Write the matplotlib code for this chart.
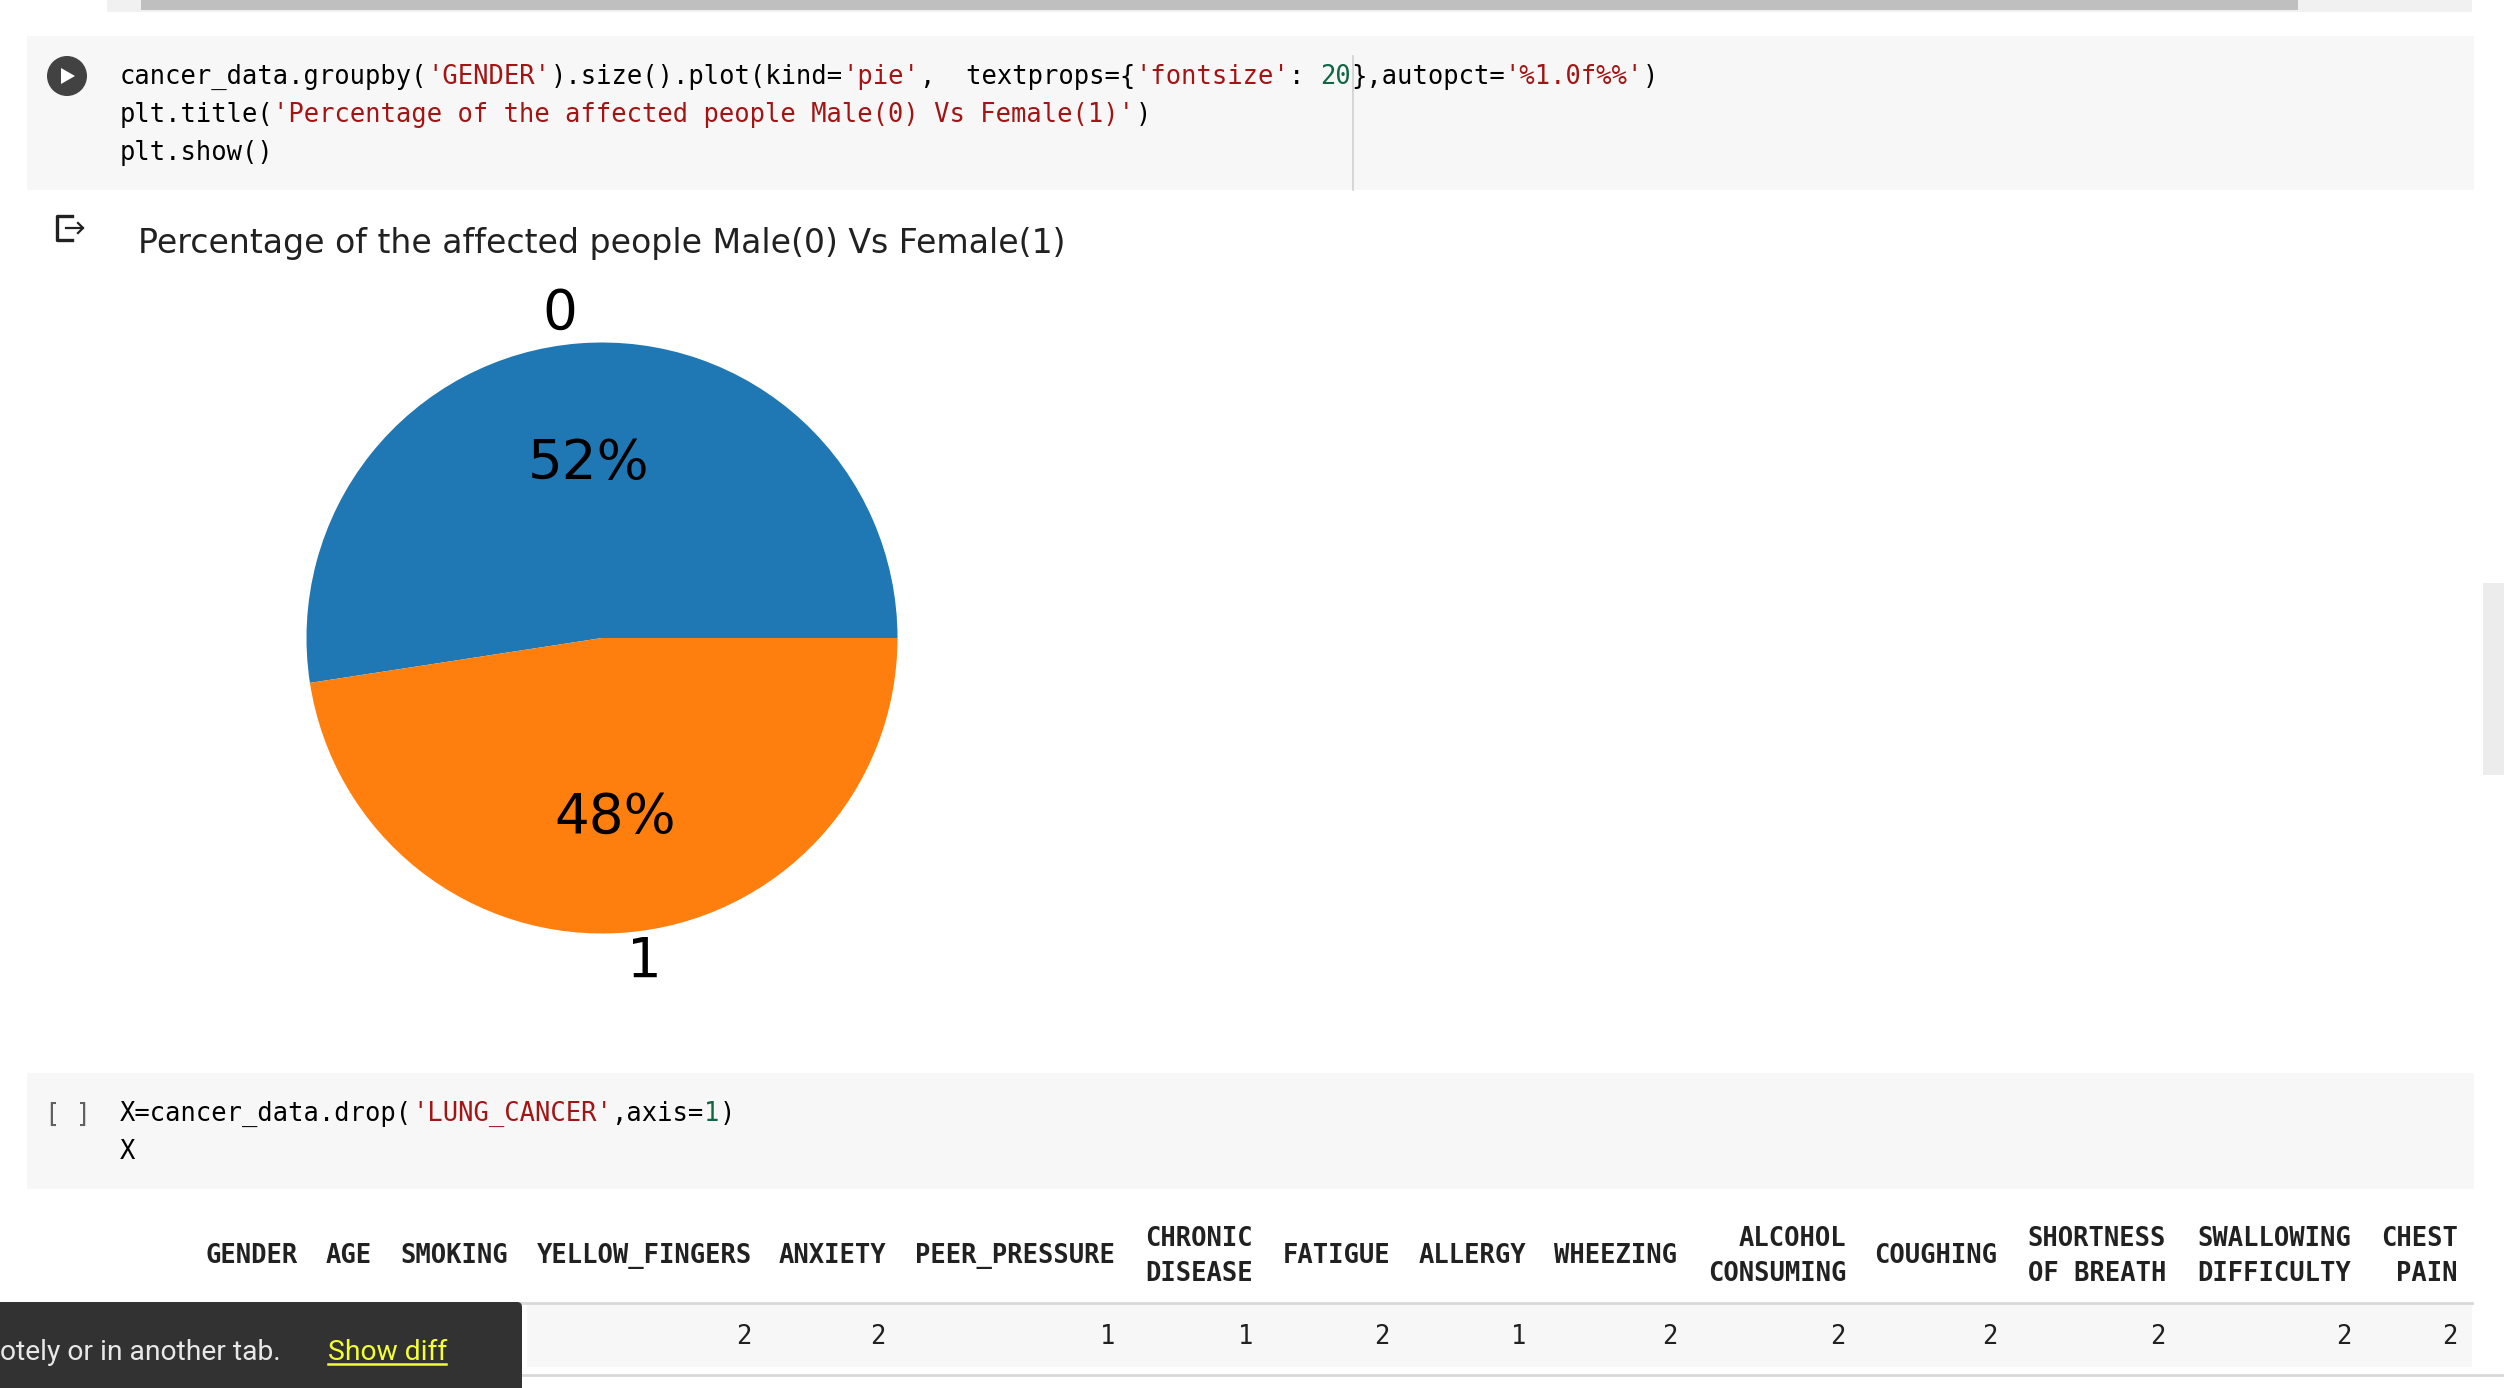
import matplotlib
matplotlib.use("Agg")
import matplotlib.pyplot as plt
from matplotlib.patches import Rectangle, FancyBboxPatch, Circle, Polygon

# ---- data ----
gender_labels = ['0', '1']
gender_counts = [162, 147]
pie_colors = ['#1f77b4', '#ff7f0e']
chart_title = 'Percentage of the affected people Male(0) Vs Female(1)'

BLK, STR, NUM = '#000000', '#a31515', '#116644'
code_line1 = [("cancer_data.groupby(", BLK), ("'GENDER'", STR), (").size().plot(kind=", BLK), ("'pie'", STR),
              (",  textprops={", BLK), ("'fontsize'", STR), (": ", BLK), ("20", NUM), ("},autopct=", BLK),
              ("'%1.0f%%'", STR), (")", BLK)]
code_line2 = [("plt.title(", BLK), ("'Percentage of the affected people Male(0) Vs Female(1)'", STR), (")", BLK)]
code_line3 = [("plt.show()", BLK)]
code_line4 = [("X=cancer_data.drop(", BLK), ("'LUNG_CANCER'", STR), (",axis=", BLK), ("1", NUM), (")", BLK)]
code_line5 = [("X", BLK)]

table_headers = ['GENDER', 'AGE', 'SMOKING', 'YELLOW_FINGERS', 'ANXIETY', 'PEER_PRESSURE', 'CHRONIC\nDISEASE',
                 'FATIGUE', 'ALLERGY', 'WHEEZING', 'ALCOHOL\nCONSUMING', 'COUGHING', 'SHORTNESS\nOF BREATH',
                 'SWALLOWING\nDIFFICULTY', 'CHEST\nPAIN']
header_right = [298, 372, 508, 752, 886, 1115, 1253, 1390, 1526, 1677, 1846, 1997, 2166, 2351, 2458]
row_values = [None, None, None, 2, 2, 1, 1, 2, 1, 2, 2, 2, 2, 2, 2]

# ---- figure ----
W, H = 2504, 1388
fig = plt.figure(figsize=(W / 100, H / 100), dpi=100, facecolor='white')
bg = fig.add_axes([0, 0, 1, 1], zorder=0)
bg.set_xlim(0, W)
bg.set_ylim(H, 0)
bg.axis('off')

MONO = 'DejaVu Sans Mono'
ADV = 15.39
FS = 18.4


def rect(x0, y0, x1, y1, color, z=1):
    bg.add_patch(Rectangle((x0, y0), x1 - x0, y1 - y0, fc=color, ec='none', zorder=z))


def code(tokens, x, y):
    i = 0
    for s, c in tokens:
        bg.text(x + i * ADV, y, s, family=MONO, fontsize=FS, color=c, va='center', ha='left', zorder=3)
        i += len(s)


# scrollbars
rect(107, 0, 2472, 12, '#f1f1f1')
rect(141, 0, 2298, 10, '#bfbfbf', 2)
rect(2483, 583, 2504, 775, '#ececec')

# code cell 1
rect(27, 36, 2474, 190, '#f7f7f7')
bg.plot([1353, 1353], [56, 190], color='#d0d0d0', lw=1.2, zorder=2)
bg.add_patch(Circle((67, 76), 20, fc='#424242', ec='none', zorder=3))
bg.add_patch(Polygon([(61, 68), (61, 84), (75, 76)], closed=True, fc='white', ec='none', zorder=4))
code(code_line1, 119.5, 77)
code(code_line2, 119.5, 115)
code(code_line3, 119.5, 153)

# output icon
bg.plot([72, 57, 57, 72], [216, 216, 240, 240], color='#212121', lw=2.4, zorder=3)
bg.plot([66, 83], [228, 228], color='#212121', lw=1.6, zorder=3)
bg.plot([78, 83, 78], [223, 228, 233], color='#212121', lw=1.6, zorder=3)

# code cell 2
rect(27, 1073, 2474, 1189, '#f7f7f7')
bg.text(68, 1115, '[ ]', family=MONO, fontsize=FS, color='#616161', va='center', ha='center', zorder=3)
code(code_line4, 119.5, 1114)
code(code_line5, 119.5, 1152)

# table
rect(527, 1304, 2472, 1367, '#f7f7f7')
bg.plot([0, 2472], [1303, 1303], color='#d8d8d8', lw=2, zorder=2)
bg.plot([0, W], [1375, 1375], color='#d8d8d8', lw=2, zorder=2)
for name, xr, val in zip(table_headers, header_right, row_values):
    lines = name.split('\n')
    ys = [1256] if len(lines) == 1 else [1239, 1274]
    for s, y in zip(lines, ys):
        bg.text(xr, y, s, family=MONO, fontsize=FS, fontweight='bold', color='#212121',
                va='center', ha='right', zorder=3)
    if val is not None:
        bg.text(xr, 1337, str(val), family=MONO, fontsize=FS, color='#212121', va='center', ha='right', zorder=3)

# toast
bg.add_patch(FancyBboxPatch((-20, 1302), 542, 120, boxstyle='round,pad=0,rounding_size=5',
                            fc='#323232', ec='none', zorder=5))
bg.text(281, 1353, 'otely or in another tab.', family='Roboto', fontsize=20.3, color='#e8e8e8',
        va='center', ha='right', zorder=6)
bg.text(328, 1353, 'Show diff', family='Roboto', fontsize=20.3, color='#f2ff33', va='center', ha='left', zorder=6)
bg.plot([328, 446], [1364, 1364], color='#f2ff33', lw=1.8, zorder=6)

# pie
cx, cy, r = 602, 638, 295.5
half = r * 1.25
ax = fig.add_axes([(cx - half) / W, 1 - (cy + half) / H, 2 * half / W, 2 * half / H], zorder=2)
ax.patch.set_alpha(0)
wedges, labels, pcts = ax.pie(gender_counts, labels=gender_labels, colors=pie_colors, autopct='%1.0f%%',
                              textprops={'fontsize': 39.4})
for t in pcts:
    px, py = t.get_position()
    t.set_position((px, py - 0.011))
ax.set_xlim(-1.25, 1.25)
ax.set_ylim(-1.25, 1.25)
ax.set_title(chart_title, fontsize=23.9, color='#212121', pad=11)

fig.savefig('out.png', dpi=100)
